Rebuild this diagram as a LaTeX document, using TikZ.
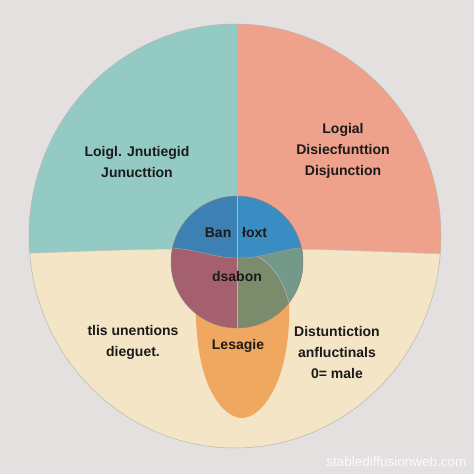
\documentclass[tikz,border=0pt]{standalone}
\usepackage{fontspec}
\setmainfont{Liberation Sans}
\definecolor{bgGray}{HTML}{E4E0DF}
\definecolor{tealFill}{HTML}{94CAC4}
\definecolor{pinkFill}{HTML}{EEA28B}
\definecolor{creamFill}{HTML}{F3E5C5}
\definecolor{blueLeft}{HTML}{3C80B4}
\definecolor{blueRight}{HTML}{3A8DC2}
\definecolor{mauveFill}{HTML}{A4606F}
\definecolor{greenFill}{HTML}{7B8C6D}
\definecolor{seaFill}{HTML}{72998A}
\definecolor{orangeFill}{HTML}{F0A860}
\definecolor{edgeGray}{HTML}{8E8482}
\definecolor{ink}{HTML}{1B1A1A}
\begin{document}
\begin{tikzpicture}[
    x=1pt, y=-1pt,
    line width=0.5pt,
    every node/.style={font=\bfseries\fontsize{14}{21}\selectfont, text=ink, align=center}
  ]
  % Background
  \fill[bgGray] (0,0) rectangle (474,474);
  \useasboundingbox (0,0) rectangle (474,474);

  % Big circle, three parts
  \begin{scope}
    \clip (235,236) ellipse (206pt and 212pt);
    \fill[creamFill] (0,0) rectangle (474,474);
    \fill[tealFill] (0,0) -- (237,0) -- (237,250)
      .. controls (150,247) and (80,252) .. (0,254) -- cycle;
    \fill[pinkFill] (237,0) -- (474,0) -- (474,255)
      .. controls (380,252) and (300,247) .. (237,250) -- cycle;
    \draw[edgeGray!50] (0,254) .. controls (80,252) and (150,247) .. (237,250)
      .. controls (300,247) and (380,252) .. (474,255);
  \end{scope}
  \draw[edgeGray!60] (235,236) ellipse (206pt and 212pt);

  % Orange drop
  \fill[orangeFill] (196,300) .. controls (194,390) and (225,418) .. (242,418)
    .. controls (262,418) and (292,380) .. (289,300) -- cycle;

  % Small circle
  \begin{scope}
    \clip (237,262) circle (66pt);
    \fill[blueLeft] (160,190) rectangle (237,262);
    \fill[blueRight] (237,190) rectangle (320,262);
    \fill[mauveFill] (160,248) -- (171,248) .. controls (195,249) and (215,258) .. (237,258)
      -- (237,340) -- (160,340) -- cycle;
    \fill[greenFill] (237,258) .. controls (262,259) and (282,248) .. (304,248)
      -- (320,248) -- (320,340) -- (237,340) -- cycle;
    \fill[seaFill] (258,257) .. controls (275,266) and (286,285) .. (291,312)
      -- (320,312) -- (320,246) -- (304,248) .. controls (285,249) and (270,255) .. (258,257);
    \draw[edgeGray!80] (171,248) .. controls (195,249) and (215,258) .. (237,258)
      .. controls (262,259) and (282,248) .. (304,248);
    \draw[edgeGray!60] (258,257) .. controls (275,266) and (286,285) .. (291,312);
    \draw[edgeGray!60] (237,190) -- (237,340);
  \end{scope}
  \draw[edgeGray] (237,262) circle (66pt);

  % Labels
  \node (junc) at (137,162) {Loigl. Jnutiegid\\Junucttion};
  \node (disj) at (343,151) {Logial\\Disiecfunttion\\Disjunction};
  \node (both) at (236,232) {Ban\hspace{7pt} łoxt};
  \node (over) at (237,276) {dsabon};
  \node (left) at (133,342) {tlis unentions\\dieguet.};
  \node (low) at (238,346) {Lesagie};
  \node (right) at (337,352) {Distuntiction\\anfluctinals\\0= male};

  % Watermark
  \node[font=\fontsize{13.5}{16}\selectfont, text=white!85!bgGray, anchor=east]
    (web) at (470,462) {stablediffusionweb.com};
\end{tikzpicture}
\end{document}
